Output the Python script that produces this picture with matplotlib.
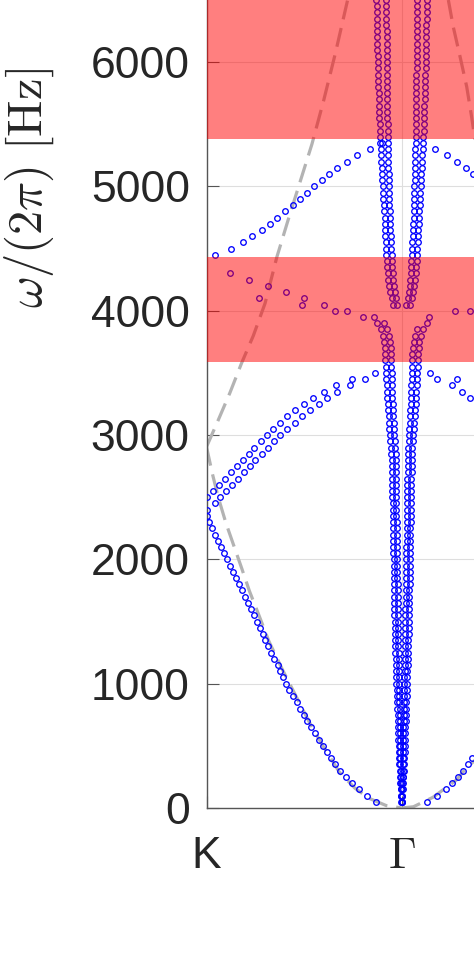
import numpy as np
import matplotlib
matplotlib.use("Agg")
import matplotlib.pyplot as plt

plt.rcParams["mathtext.fontset"] = "cm"
plt.rcParams["font.family"] = ["Liberation Sans", "DejaVu Sans"]

# frequency sweep (Hz) used by the solver, one k-solution set per step
STEP = 50

# band-gap ranges (Hz)
gaps = [(3586, 4430), (5380, 7000)]

# branch from K down to Gamma (f = 2350 ... 50)
a_freq = np.arange(2350, 0, -STEP)
a_k = [0.000, 0.013, 0.027, 0.042, 0.057, 0.072, 0.088, 0.103, 0.118, 0.134,
       0.149, 0.165, 0.180, 0.196, 0.212, 0.228, 0.243, 0.258, 0.273, 0.287,
       0.301, 0.317, 0.332, 0.348, 0.364, 0.377, 0.392, 0.408, 0.425, 0.442,
       0.462, 0.480, 0.498, 0.516, 0.536, 0.556, 0.576, 0.596, 0.616, 0.638,
       0.660, 0.685, 0.713, 0.743, 0.783, 0.821, 0.870]
# same branch on the Gamma-M side (f = 50 ... 450)
a2_freq = np.arange(50, 451, STEP)
a2_k = [1.128, 1.182, 1.225, 1.259, 1.287, 1.316, 1.341, 1.359, 1.385]

# two rising branches from K
b_freq = np.arange(2500, 3501, STEP)
b_k = [0.005, 0.033, 0.064, 0.093, 0.127, 0.156, 0.187, 0.218, 0.244, 0.277,
       0.308, 0.342, 0.376, 0.414, 0.454, 0.497, 0.548, 0.603, 0.665, 0.746,
       0.861]
c_freq = np.arange(2400, 3451, STEP)
c_k = [0.000, 0.041, 0.070, 0.101, 0.131, 0.162, 0.191, 0.222, 0.247, 0.282,
       0.316, 0.345, 0.376, 0.414, 0.454, 0.488, 0.531, 0.574, 0.617, 0.668,
       0.737, 0.811]
bc_right_freq = [3500, 3450, 3400, 3350, 3300, 3450]
bc_right_k = [1.145, 1.182, 1.256, 1.307, 1.350, 1.285]

# branch in the pass band 4450-5350 Hz
d_freq = np.arange(4450, 5351, STEP)
d_k = [0.041, 0.127, 0.187, 0.235, 0.282, 0.325, 0.363, 0.402, 0.442, 0.479,
       0.514, 0.553, 0.591, 0.630, 0.671, 0.720, 0.771, 0.837, 0.901]
d_right_freq = [5300, 5250, 5200, 5150, 5100, 5050]
d_right_k = [1.171, 1.234, 1.285, 1.328, 1.367, 1.400]

# branches inside the lower gap
e1_freq = np.arange(3900, 4301, STEP)
e1_k = [0.910, 0.857, 0.720, 0.603, 0.497, 0.407, 0.316, 0.218, 0.122]
e2_freq = np.arange(3900, 4101, STEP)
e2_k = [0.875, 0.802, 0.660, 0.488, 0.270]
e_right_freq = [3900, 3950, 4000, 4000]
e_right_k = [1.128, 1.140, 1.273, 1.350]

# steep branches around Gamma, offset from Gamma in 1e-3 of |K-Gamma|
low_freq = np.arange(50, 3851, STEP)
low_outer = [2, 4, 6, 7, 9, 11, 13, 14, 15, 16, 17, 18, 18, 20, 21, 22, 24, 25,
             26, 27, 28, 29, 30, 31, 32, 33, 34, 35, 36,
             36, 37, 37, 38, 38, 39, 40, 40, 41, 41, 42, 43, 43, 44, 44, 45,
             46, 46, 47, 47, 48, 49, 49, 50, 51, 51, 52, 53,
             55, 58, 60, 63, 65, 67, 70, 72, 73, 75, 77, 78, 80, 81, 83, 85,
             87, 91, 97, 108]
low_inner = [1, 2, 3, 4, 5, 6, 7, 7, 7, 8, 8, 9, 9, 10, 11, 11, 12, 12, 13, 14,
             14, 15, 15, 16, 16, 17, 17, 18, 18,
             18, 19, 19, 20, 20, 21, 21, 22, 22, 23, 23, 24, 24, 25, 25, 26,
             26, 27, 27, 28, 28, 29, 29, 29, 30, 30, 31, 31,
             33, 35, 37, 39, 41, 43, 45, 47, 48, 49, 50, 51, 52, 53, 54, 55,
             56, 61, 67, 77]
high_freq = np.arange(4050, 6501, STEP)
high_inner = [23, 31, 36, 40, 43, 46, 48, 50, 52, 54, 55, 57, 58, 60, 61, 62,
              63, 64, 65, 65, 66, 67, 68, 69, 69, 70, 71, 71, 72, 72, 73, 73,
              74, 74, 74, 75, 75, 75, 76, 76, 76, 77, 77, 77, 77, 78, 78, 78,
              78, 79]
high_outer = [43, 52, 58, 63, 68, 71, 74, 76, 78, 80, 82, 84, 85, 87, 88, 90,
              92, 94, 95, 97, 99, 100, 102, 104, 106, 108, 109, 111, 112, 113,
              114, 115, 116, 117, 118, 119, 120, 121, 122, 123, 123, 124, 125,
              126, 126, 127, 128, 128, 129, 130]

# folded free-plate dispersion (dashed reference)
dash_left_up_k = [0.00, 0.06, 0.12, 0.18, 0.24, 0.30, 0.36, 0.42, 0.48, 0.54,
                  0.60, 0.66, 0.72, 0.73]
dash_left_up_f = [2905, 3120, 3340, 3580, 3800, 4060, 4430, 4740, 5040, 5340,
                  5690, 6070, 6480, 6550]
dash_left_down_k = [0.00, 0.03, 0.06, 0.10, 0.14, 0.18, 0.22, 0.27, 0.32, 0.39,
                    0.46, 0.53, 0.60, 0.68, 0.76, 0.83, 0.92, 1.00]
dash_left_down_f = [2905, 2690, 2500, 2290, 2110, 1930, 1745, 1545, 1340, 1110,
                    895, 681, 490, 290, 160, 80, 20, 0]
dash_right_low_k = [1.00, 1.06, 1.16, 1.28, 1.33, 1.40]
dash_right_low_f = [0, 10, 86, 225, 319, 420]
dash_right_up_k = [1.239, 1.264, 1.299, 1.333, 1.358, 1.380]
dash_right_up_f = [6500, 6285, 6044, 5803, 5562, 5330]

tick_pos = [0, 1]
tick_labels = ["K", r"$\Gamma$"]

W, H = 474, 977
fig = plt.figure(figsize=(W / 100, H / 100), dpi=100)
ax = fig.add_axes([206.5 / W, 169 / H, (W - 206.5) / W, 808 / H])

mk = dict(linestyle="none", marker="o", markersize=4.0, markeredgewidth=0.95,
          markerfacecolor="none", markeredgecolor=(0, 0, 1), zorder=3)

ax.plot(a_k, a_freq, **mk)
ax.plot(a2_k, a2_freq, **mk)
ax.plot(b_k, b_freq, **mk)
ax.plot(c_k, c_freq, **mk)
ax.plot(bc_right_k, bc_right_freq, **mk)
ax.plot(d_k, d_freq, **mk)
ax.plot(d_right_k, d_right_freq, **mk)
ax.plot(e1_k, e1_freq, **mk)
ax.plot(e2_k, e2_freq, **mk)
ax.plot(e_right_k, e_right_freq, **mk)
for offsets, freq in [(low_outer, low_freq), (low_inner, low_freq),
                      (high_inner, high_freq), (high_outer, high_freq)]:
    off = np.array(offsets) / 1000.0
    ax.plot(1 - off, freq, **mk)
    ax.plot(1 + off, freq, **mk)

dash = dict(color=(0.7, 0.7, 0.7), linewidth=2.3, linestyle=(0, (6, 2.8)),
            zorder=2.5)
ax.plot(dash_left_up_k, dash_left_up_f, **dash)
ax.plot(dash_left_down_k, dash_left_down_f, **dash)
ax.plot(dash_right_low_k, dash_right_low_f, **dash)
ax.plot(dash_right_up_k, dash_right_up_f, **dash)

for lo, hi in gaps:
    ax.axhspan(lo, hi, color=(1, 0, 0), alpha=0.5, linewidth=0, zorder=4)

ax.set_xlim(0, (W - 206.5) / 195.2)
ax.set_ylim(0, 6500)
ax.set_yticks(range(0, 6001, 1000))
ax.set_xticks(tick_pos)
ax.set_xticklabels(tick_labels)
ax.grid(True, color=(0.87, 0.87, 0.87), linewidth=0.8, zorder=0)
ax.set_axisbelow(True)

for side in ["top", "right"]:
    ax.spines[side].set_visible(False)
for side in ["left", "bottom"]:
    ax.spines[side].set_color("#555555")
    ax.spines[side].set_linewidth(1.0)

ax.tick_params(axis="both", direction="in", length=8.5, width=0.8,
               color="#555555", labelsize=32, labelcolor="#262626")
ax.tick_params(axis="y", pad=12)
ax.tick_params(axis="x", pad=43)
for lab in ax.get_xticklabels():
    lab.set_verticalalignment("baseline")

ax.set_ylabel(r"$\omega/(2\pi)\ [\mathrm{Hz}]$", fontsize=35, color="#262626",
              va="center")
ax.yaxis.set_label_coords(-(206.5 - 29) / (W - 206.5), (808 - 188) / 808)

fig.savefig("out.png", dpi=100)
